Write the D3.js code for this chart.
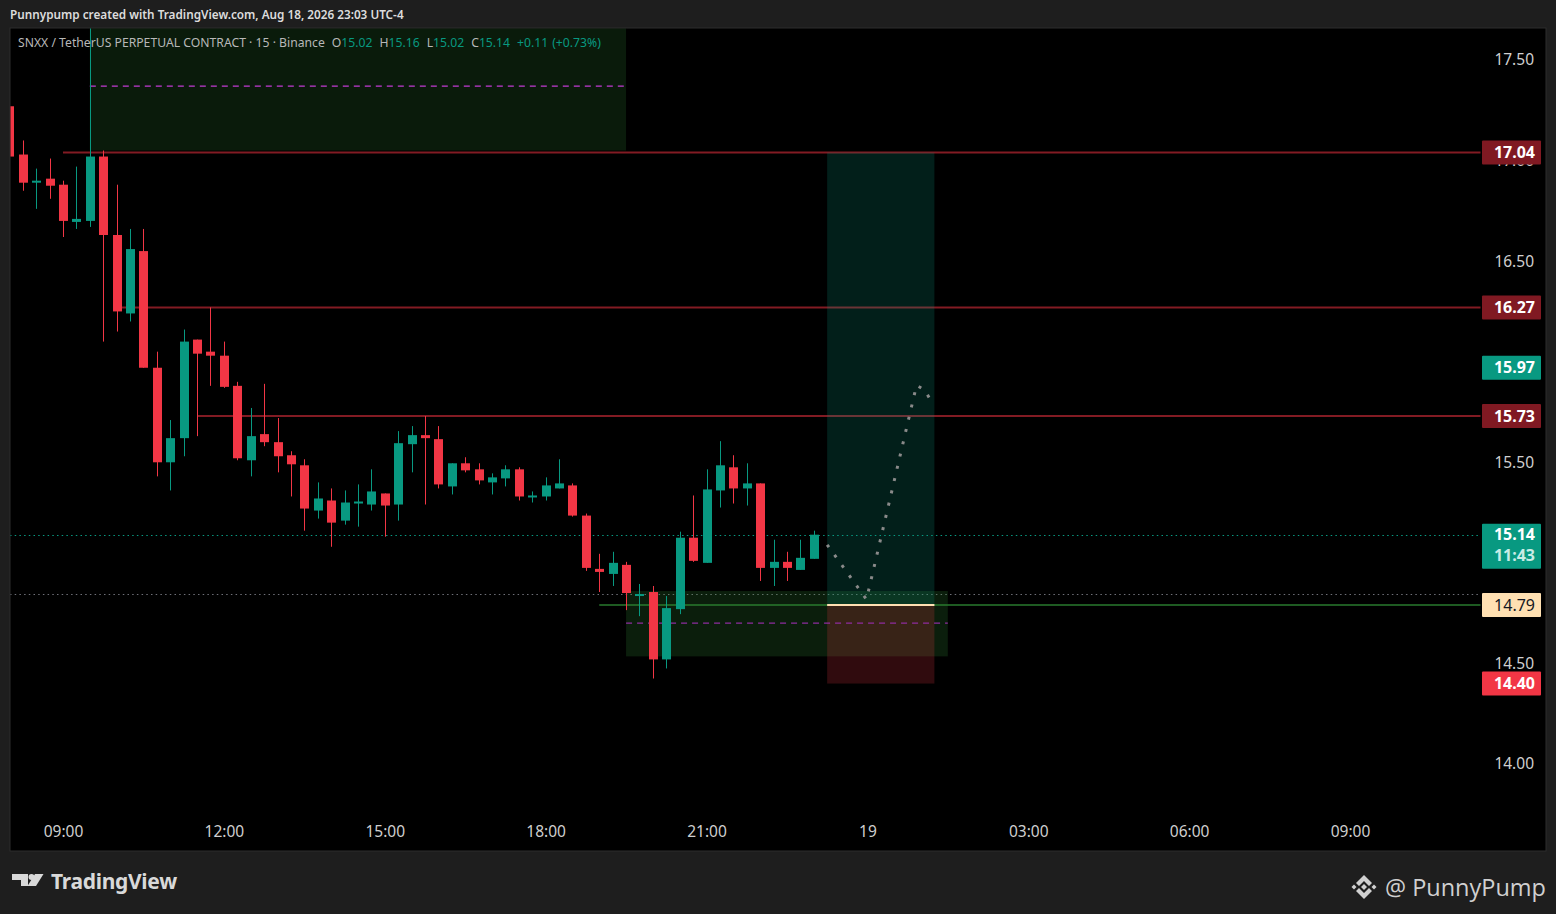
<!DOCTYPE html>
<html>
<head>
<meta charset="utf-8">
<script src="https://cdn.jsdelivr.net/npm/d3@7"></script>
<style>
  body { margin: 0; background: #1e1e1e; }
  svg { display: block; font-family: "Noto Sans", "DejaVu Sans", sans-serif; }
</style>
</head>
<body>
<svg id="chart" width="1556" height="914"></svg>
<script>
// SNXX/USDT perp, 15m bars, Aug 18 2026 08:00 -> 23:00
function t(h, m, day) { return new Date(2026, 7, day || 18, h, m); }

var firstBar = t(8, 0);
var opens = [17.27, 17.03, 16.89, 16.91, 16.88, 16.695, 16.70, 17.02, 16.63, 16.24,
  16.55, 15.97, 15.50, 15.62, 16.11, 16.05, 16.03, 15.88, 15.51, 15.64,
  15.60, 15.535, 15.485, 15.26, 15.31, 15.21, 15.295, 15.29, 15.345, 15.29,
  15.59, 15.635, 15.615, 15.38, 15.495, 15.465, 15.40, 15.42, 15.465, 15.33,
  15.33, 15.37, 15.385, 15.235, 14.97, 14.945, 14.99, 14.84, 14.855, 14.52,
  14.77, 15.125, 15.00, 15.36, 15.475, 15.37, 15.395, 14.975, 15.005, 14.965, 15.02];
var highs = [17.43, 17.10, 16.96, 17.01, 16.90, 16.97, 17.75, 17.05, 16.88, 16.66,
  16.66, 16.05, 15.71, 16.16, 16.11, 16.27, 16.10, 15.90, 15.77, 15.89,
  15.72, 15.555, 15.515, 15.40, 15.37, 15.36, 15.39, 15.465, 15.345, 15.655,
  15.68, 15.73, 15.68, 15.495, 15.525, 15.495, 15.445, 15.485, 15.475, 15.355,
  15.425, 15.515, 15.395, 15.245, 15.045, 15.055, 15.005, 14.895, 14.885, 14.835,
  15.155, 15.335, 15.465, 15.605, 15.535, 15.495, 15.395, 15.115, 15.055, 15.115, 15.16];
var lows = [17.00, 16.85, 16.76, 16.81, 16.62, 16.66, 16.67, 16.10, 16.15, 16.20,
  15.97, 15.43, 15.36, 15.53, 15.63, 15.88, 15.87, 15.51, 15.43, 15.58,
  15.45, 15.33, 15.16, 15.22, 15.08, 15.19, 15.18, 15.26, 15.13, 15.21,
  15.45, 15.29, 15.37, 15.34, 15.45, 15.39, 15.34, 15.38, 15.31, 15.30,
  15.31, 15.37, 15.23, 14.96, 14.855, 14.885, 14.765, 14.735, 14.425, 14.475,
  14.745, 15.005, 15.00, 15.275, 15.295, 15.285, 14.91, 14.885, 14.91, 14.965, 15.02];
var closes = [17.02, 16.89, 16.90, 16.875, 16.70, 16.71, 17.02, 16.63, 16.25, 16.56,
  15.97, 15.50, 15.62, 16.10, 16.04, 16.03, 15.875, 15.52, 15.63, 15.60,
  15.53, 15.49, 15.27, 15.32, 15.20, 15.30, 15.305, 15.355, 15.285, 15.595,
  15.635, 15.62, 15.39, 15.495, 15.46, 15.41, 15.425, 15.465, 15.33, 15.335,
  15.385, 15.395, 15.235, 14.975, 14.955, 15.00, 14.85, 14.845, 14.52, 14.775,
  15.125, 15.01, 15.365, 15.485, 15.37, 15.395, 14.975, 15.005, 14.975, 15.025, 15.14];

// 16.00 sits fully under the 15.97 tag, so it is left out
var priceTicks = [17.5, 17.0, 16.5, 15.5, 15.0, 14.5, 14.0];
var timeTicks = [t(9, 0), t(12, 0), t(15, 0), t(18, 0), t(21, 0), t(0, 0, 19), t(3, 0, 19), t(6, 0, 19), t(9, 0, 19)];

// drawings
var levelPrices = [17.04, 16.27, 15.73];
var levelStarts = [t(9, 0), t(10, 0), t(11, 30)];
var topBoxTimes = [t(9, 30), t(19, 30)];
var topBoxPrices = [17.70, 17.05, 17.37];
var lowBoxTimes = [t(19, 30), t(1, 30, 19)];
var lowBoxPrices = [14.86, 14.535, 14.70];
var posTimes = [t(23, 15), t(1, 15, 19)];
var posEntry = 14.79, posTarget = 17.04, posStop = 14.40;
var entryLineStart = t(19, 0);
var lastPrice = 15.14, otherDotted = 14.843;
var projTimes = [t(23, 15), t(23, 59), t(0, 55, 19), t(1, 4, 19), t(1, 11, 19)];
var projPrices = [15.09, 14.818, 15.883, 15.86, 15.807];

var axisLabelPrices = [17.04, 16.27, 15.97, 15.73, 15.14, 14.79, 14.40];
var axisLabelKinds = ["level", "level", "target", "level", "last", "entry", "stop"];

var UP = "#089981", DOWN = "#f23645";

var svg = d3.select("#chart");
var W = 1556, H = 914;

var x = d3.scaleTime().domain([t(9, 0), t(9, 0, 19)]).range([63, 1350]);
var y = d3.scaleLinear().domain([14, 17.5]).range([764, 60]);

// background + pane
svg.append("rect").attr("width", W).attr("height", H).attr("fill", "#1e1e1e");
svg.append("rect").attr("x", 10).attr("y", 28).attr("width", 1536).attr("height", 823)
  .attr("fill", "#000").attr("stroke", "#2c2c2c");

svg.append("defs").append("clipPath").attr("id", "plotclip")
  .append("rect").attr("x", 10.5).attr("y", 28.5).attr("width", 1470).attr("height", 790);

var plot = svg.append("g").attr("clip-path", "url(#plotclip)");

// top green box
plot.append("rect")
  .attr("x", x(topBoxTimes[0])).attr("y", y(topBoxPrices[0]))
  .attr("width", x(topBoxTimes[1]) - x(topBoxTimes[0]))
  .attr("height", y(topBoxPrices[1]) - y(topBoxPrices[0]))
  .attr("fill", "rgba(46,125,50,0.22)");
plot.append("line")
  .attr("x1", x(topBoxTimes[0])).attr("x2", x(topBoxTimes[1]))
  .attr("y1", y(topBoxPrices[2])).attr("y2", y(topBoxPrices[2]))
  .attr("stroke", "#c23bd4").attr("stroke-width", 1.3).attr("stroke-dasharray", "6 5");

// level lines
plot.selectAll(".level").data(levelPrices).enter().append("line")
  .attr("class", "level")
  .attr("x1", function(d, i) { return x(levelStarts[i]); })
  .attr("x2", 1482)
  .attr("y1", function(d) { return y(d); })
  .attr("y2", function(d) { return y(d); })
  .attr("stroke", "#821b23").attr("stroke-width", 2);

// dotted price lines
plot.append("line").attr("x1", 10).attr("x2", 1482)
  .attr("y1", Math.round(y(lastPrice)) + 0.5).attr("y2", Math.round(y(lastPrice)) + 0.5)
  .attr("stroke", UP).attr("stroke-width", 1).attr("stroke-dasharray", "1.5 3.2");
plot.append("line").attr("x1", 10).attr("x2", 1482)
  .attr("y1", Math.round(y(otherDotted)) + 0.5).attr("y2", Math.round(y(otherDotted)) + 0.5)
  .attr("stroke", "#6f7078").attr("stroke-width", 1).attr("stroke-dasharray", "1.5 3.2");

// green entry line
plot.append("line").attr("x1", x(entryLineStart)).attr("x2", 1482)
  .attr("y1", y(posEntry)).attr("y2", y(posEntry))
  .attr("stroke", "#1e5b22").attr("stroke-width", 2);

// lower box
plot.append("rect")
  .attr("x", x(lowBoxTimes[0])).attr("y", y(lowBoxPrices[0]))
  .attr("width", x(lowBoxTimes[1]) - x(lowBoxTimes[0]))
  .attr("height", y(lowBoxPrices[1]) - y(lowBoxPrices[0]))
  .attr("fill", "rgba(46,125,50,0.24)");

// long position
plot.append("rect")
  .attr("x", x(posTimes[0])).attr("y", y(posTarget))
  .attr("width", x(posTimes[1]) - x(posTimes[0]))
  .attr("height", y(posEntry) - y(posTarget))
  .attr("fill", "rgba(8,153,129,0.2)");
plot.append("rect")
  .attr("x", x(posTimes[0])).attr("y", y(posEntry))
  .attr("width", x(posTimes[1]) - x(posTimes[0]))
  .attr("height", y(posStop) - y(posEntry))
  .attr("fill", "rgba(242,54,69,0.2)");

plot.append("line")
  .attr("x1", x(lowBoxTimes[0])).attr("x2", x(lowBoxTimes[1]))
  .attr("y1", y(lowBoxPrices[2])).attr("y2", y(lowBoxPrices[2]))
  .attr("stroke", "#8e2c9f").attr("stroke-width", 1.3).attr("stroke-dasharray", "6 5");

plot.append("line")
  .attr("x1", x(posTimes[0])).attr("x2", x(posTimes[1]))
  .attr("y1", y(posEntry)).attr("y2", y(posEntry))
  .attr("stroke", "#ffe0b2").attr("stroke-width", 2);

// candles
var bars = opens.map(function(o, i) {
  return { time: d3.timeMinute.offset(firstBar, 15 * i), o: o, h: highs[i], l: lows[i], c: closes[i] };
});

var candle = plot.selectAll(".candle").data(bars).enter().append("g").attr("class", "candle");
candle.append("line")
  .attr("x1", function(d) { return Math.round(x(d.time)) + 0.5; })
  .attr("x2", function(d) { return Math.round(x(d.time)) + 0.5; })
  .attr("y1", function(d) { return y(d.h); })
  .attr("y2", function(d) { return y(d.l); })
  .attr("stroke", function(d) { return d.c >= d.o ? UP : DOWN; })
  .attr("stroke-width", 1);
candle.append("rect")
  .attr("x", function(d) { return Math.round(x(d.time)) - 4; })
  .attr("width", 9)
  .attr("y", function(d) { return y(Math.max(d.o, d.c)); })
  .attr("height", function(d) { return Math.max(2, Math.abs(y(d.o) - y(d.c))); })
  .attr("fill", function(d) { return d.c >= d.o ? UP : DOWN; });

// projected path
plot.append("path")
  .datum(projTimes.map(function(tm, i) { return [tm, projPrices[i]]; }))
  .attr("d", d3.line().x(function(d) { return x(d[0]); }).y(function(d) { return y(d[1]); }))
  .attr("fill", "none").attr("stroke", "#8a8a8a").attr("stroke-width", 3)
  .attr("stroke-dasharray", "3 9.6");

// time axis
var xAxis = svg.append("g").attr("transform", "translate(0,829)")
  .call(d3.axisBottom(x).tickValues(timeTicks).tickSize(0)
    .tickFormat(function(d) { return d.getHours() === 0 ? d3.timeFormat("%-d")(d) : d3.timeFormat("%H:%M")(d); }));
xAxis.select(".domain").remove();
xAxis.selectAll("text").attr("fill", "#cfcfcf").attr("font-size", 15.5).attr("dy", "0.3em")
  .attr("font-family", "Noto Sans");

// price axis
var yAxis = svg.append("g").attr("transform", "translate(1534,0)")
  .call(d3.axisRight(y).tickValues(priceTicks).tickSize(0).tickFormat(d3.format(".2f")));
yAxis.select(".domain").remove();
yAxis.selectAll("text").attr("x", 0).attr("text-anchor", "end").attr("fill", "#cfcfcf")
  .attr("font-size", 15.5).attr("font-family", "Noto Sans");

// price labels
var kindFill = { level: "#801922", target: UP, last: UP, entry: "#ffe0b2", stop: DOWN };
var kindText = { level: "#fff", target: "#fff", last: "#fff", entry: "#131722", stop: "#fff" };
var lab = svg.selectAll(".plabel").data(axisLabelPrices).enter().append("g").attr("class", "plabel");
lab.append("rect")
  .attr("x", 1482).attr("width", 59)
  .attr("y", function(d, i) { return y(d) - (axisLabelKinds[i] === "last" ? 11 : 12); })
  .attr("height", function(d, i) { return axisLabelKinds[i] === "last" ? 45 : 24; })
  .attr("rx", 1)
  .attr("fill", function(d, i) { return kindFill[axisLabelKinds[i]]; });
lab.append("text")
  .attr("x", 1535).attr("y", function(d) { return y(d); }).attr("dy", "0.35em")
  .attr("text-anchor", "end").attr("font-size", 16)
  .attr("fill", function(d, i) { return kindText[axisLabelKinds[i]]; })
  .attr("font-weight", function(d, i) { return axisLabelKinds[i] === "entry" ? 400 : 700; })
  .text(function(d) { return d3.format(".2f")(d); });
svg.append("text").attr("x", 1535).attr("y", y(lastPrice) + 21).attr("dy", "0.35em")
  .attr("text-anchor", "end").attr("font-size", 16).attr("font-weight", 700)
  .attr("fill", "#c8ece5").text("11:43");

// header / legend
svg.append("text").attr("x", 10).attr("y", 19).attr("font-size", 11.75).attr("font-weight", 600)
  .attr("fill", "#dcdcdc").text("Punnypump created with TradingView.com, Aug 18, 2026 23:03 UTC-4");

var legendParts = [
  ["SNXX / TetherUS PERPETUAL CONTRACT · 15 · Binance", "#b8b8b8", 0],
  ["O", "#b8b8b8", 7], ["15.02", UP, 0],
  ["H", "#b8b8b8", 7], ["15.16", UP, 0],
  ["L", "#b8b8b8", 7], ["15.02", UP, 0],
  ["C", "#b8b8b8", 7], ["15.14", UP, 0],
  ["+0.11", UP, 7], ["(+0.73%)", UP, 4]
];
var legend = svg.append("text").attr("x", 18).attr("y", 47).attr("font-size", 12.2);
legendParts.forEach(function(p) {
  legend.append("tspan").attr("dx", p[2]).attr("fill", p[1]).text(p[0]);
});

// footer: TradingView mark
var logo = svg.append("g").attr("fill", "#d9d9d9");
logo.append("path").attr("d", "M12,874 H28 V886 H21 V880 H12 Z");
logo.append("circle").attr("cx", 31.5).attr("cy", 877).attr("r", 3);
logo.append("path").attr("d", "M35,874 H43.5 L36,886 H27.5 Z");
svg.append("text").attr("x", 51).attr("y", 889).attr("font-size", 21).attr("font-weight", 700)
  .attr("fill", "#d9d9d9").attr("letter-spacing", -0.3).text("TradingView");

// footer: author badge
var badge = svg.append("g").attr("fill", "#d0d0d0").attr("transform", "translate(1364,887)");
badge.append("path").attr("d", "M0,-12 L8,-4 L5,-1 L0,-6 L-5,-1 L-8,-4 Z");
badge.append("path").attr("d", "M0,12 L8,4 L5,1 L0,6 L-5,1 L-8,4 Z");
badge.append("path").attr("d", "M0,-3 L3,0 L0,3 L-3,0 Z");
badge.append("path").attr("d", "M-10,-2.5 L-7.5,0 L-10,2.5 L-12.5,0 Z");
badge.append("path").attr("d", "M10,-2.5 L12.5,0 L10,2.5 L7.5,0 Z");
svg.append("text").attr("x", 1546).attr("y", 896).attr("text-anchor", "end")
  .attr("font-size", 23.5).attr("fill", "#d0d0d0").attr("font-family", "Open Sans")
  .text("@ PunnyPump");
</script>
</body>
</html>
